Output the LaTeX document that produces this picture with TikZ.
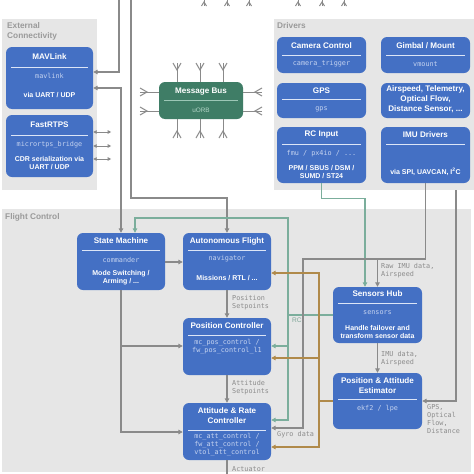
\documentclass[tikz,border=0pt]{standalone}
\usepackage{fontspec}
\setmainfont{Liberation Sans}
\newfontfamily\monof{DejaVu Sans Mono}
\usetikzlibrary{arrows.meta}
\definecolor{panelgray}{HTML}{E6E6E6}
\definecolor{boxblue}{HTML}{4470C4}
\definecolor{busgreen}{HTML}{3F7D66}
\definecolor{busdiv}{HTML}{9CC7B6}
\definecolor{bustxt}{HTML}{B4D6C8}
\definecolor{monoblue}{HTML}{C5D3F0}
\definecolor{divc}{HTML}{DCE5F7}
\definecolor{linegray}{HTML}{8A8A8A}
\definecolor{rcteal}{HTML}{7BAE9C}
\definecolor{brn}{HTML}{B08A4A}
\definecolor{lblgray}{HTML}{8C8C8C}
\definecolor{ptitle}{HTML}{9A9A9A}
\tikzset{
 panel/.style={fill=panelgray, draw=none, inner sep=0},
 blk/.style={fill=boxblue, draw=none, rounded corners=6pt, inner sep=0},
 busblk/.style={fill=busgreen, draw=none, rounded corners=6pt, inner sep=0},
 ttl/.style={text=white, font=\bfseries\fontsize{8.1}{10}\selectfont, align=center, inner sep=0},
 bod/.style={text=white, font=\bfseries\fontsize{7.0}{8.2}\selectfont, align=center, inner sep=0},
 mon/.style={text=monoblue, font=\monof\fontsize{6.8}{8}\selectfont, align=center, inner sep=0},
 lbl/.style={text=lblgray, font=\monof\fontsize{6.8}{8}\selectfont, align=left, anchor=west, inner sep=0},
 rclbl/.style={text=rcteal!80!gray, font=\fontsize{6.6}{8}\selectfont, anchor=west, inner sep=0},
 ptl/.style={text=ptitle, font=\bfseries\fontsize{8.3}{10}\selectfont, align=left, anchor=west, inner sep=0},
 divl/.style={draw=divc, line width=0.8pt},
 conn/.style={draw=linegray, line width=1.1pt},
 rcl/.style={draw=rcteal, line width=1.1pt},
 brl/.style={draw=brn, line width=1.1pt},
 stub/.style={draw=linegray, line width=1pt},
}
\newcommand\bx[6][blk]{\node[#1, minimum width={#5-#3}, minimum height={#6-#4}] (#2) at ({(#3+#5)/2},{(#4+#6)/2}) {};}
\newcommand\dv[3]{\draw[divl] (#1+5,#3) -- (#2-5,#3);}
\begin{document}
\begin{tikzpicture}[x=1pt,y=-1pt,>={Triangle[length=4.5pt,width=4.5pt]}]
\useasboundingbox[fill=white] (0,0) rectangle (474,474);
% panels
\bx[panel]{ext}{2}{19}{97}{190}
\bx[panel]{drv}{274}{19}{474}{190}
\bx[panel]{fc}{2}{209}{471}{472}
\node[ptl] (extT) at (7,31) {External\\Connectivity};
\node[ptl] (drvT) at (277,26) {Drivers};
\node[ptl] (fcT) at (5,217) {Flight Control};
% external connectivity
\bx{mav}{6}{47}{93}{109}
\node[ttl] (mavT) at (49.5,57) {MAVLink};
\dv{6}{93}{67}
\node[mon] (mavM) at (49.5,76) {mavlink};
\node[bod] (mavB) at (49.5,95) {via UART / UDP};
\bx{frt}{6}{115}{93}{177}
\node[ttl] (frtT) at (49.5,125) {FastRTPS};
\dv{6}{93}{135}
\node[mon] (frtM) at (49.5,145) {micrortps\_bridge};
\node[bod] (frtB) at (49.5,163) {CDR serialization via\\UART / UDP};
% message bus
\bx[busblk]{bus}{159}{82}{243}{119}
\node[ttl] (busT) at (201,92) {Message Bus};
\draw[draw=busdiv, line width=0.8pt] (164,100.5) -- (238,100.5);
\node[text=bustxt, font=\fontsize{6.4}{8}\selectfont, inner sep=0] (busM) at (201,110) {uORB};
\foreach \x in {177,200,223} {
  \draw[stub] (bus.north -| \x,0) -- (\x,63);
  \draw[stub] (\x-4,63) -- (\x,70) -- (\x+4,63);
  \draw[stub] (bus.south -| \x,0) -- (\x,138);
  \draw[stub] (\x-4,138) -- (\x,131) -- (\x+4,138);
}
\foreach \y in {92,111} {
  \draw[stub] (bus.west |- 0,\y) -- (140,\y);
  \draw[stub] (140,\y-4) -- (147,\y) -- (140,\y+4);
  \draw[stub] (bus.east |- 0,\y) -- (262,\y);
  \draw[stub] (262,\y-4) -- (255,\y) -- (262,\y+4);
}
\foreach \x in {204,227,249,298,322,344} {
  \draw[stub] (\x,0) -- (\x,6);
  \draw[stub] (\x-2.5,6) -- (\x,2) -- (\x+2.5,6);
}
% drivers
\bx{cam}{277}{37}{366}{73}
\node[ttl] (camT) at (321.5,46) {Camera Control};
\dv{277}{366}{55}
\node[mon] (camM) at (321.5,64) {camera\_trigger};
\bx{gim}{381}{37}{470}{73}
\node[ttl] (gimT) at (425.5,46) {Gimbal / Mount};
\dv{381}{470}{55}
\node[mon] (gimM) at (425.5,64) {vmount};
\bx{gps}{277}{83}{366}{118}
\node[ttl] (gpsT) at (321.5,91) {GPS};
\dv{277}{366}{99}
\node[mon] (gpsM) at (321.5,109) {gps};
\bx{air}{381}{83}{470}{118}
\node[ttl] (airT) at (425.5,99.5) {Airspeed, Telemetry,\\Optical Flow,\\Distance Sensor, ...};
\bx{rc}{277}{127}{366}{183}
\node[ttl] (rcT) at (321.5,135) {RC Input};
\dv{277}{366}{144}
\node[mon] (rcM) at (321.5,154) {fmu / px4io / ...};
\node[bod] (rcB) at (321.5,172) {PPM / SBUS / DSM /\\SUMD / ST24};
\bx{imu}{381}{127}{470}{183}
\node[ttl] (imuT) at (425.5,135) {IMU Drivers};
\dv{381}{470}{144}
\node[bod] (imuB) at (425.5,172) {via SPI, UAVCAN, I\textsuperscript{2}C};
% flight control
\bx{sm}{77}{233}{165}{290}
\node[ttl] (smT) at (121,241) {State Machine};
\dv{77}{165}{250}
\node[mon] (smM) at (121,260) {commander};
\node[bod] (smB) at (121,278) {Mode Switching /\\Arming / ...};
\bx{af}{183}{233}{271}{290}
\node[ttl] (afT) at (227,241) {Autonomous Flight};
\dv{183}{271}{250}
\node[mon] (afM) at (227,259) {navigator};
\node[bod] (afB) at (227,278) {Missions / RTL / ...};
\bx{pc}{183}{318}{271}{375}
\node[ttl] (pcT) at (227,326) {Position Controller};
\dv{183}{271}{335}
\node[mon] (pcM) at (227,347) {mc\_pos\_control /\\fw\_pos\_control\_l1};
\bx{ac}{183}{403}{271}{460}
\node[ttl] (acT) at (227,416) {Attitude \& Rate\\Controller};
\dv{183}{271}{430}
\node[mon] (acM) at (227,445) {mc\_att\_control /\\fw\_att\_control /\\vtol\_att\_control};
\bx{sh}{333}{287}{422}{343}
\node[ttl] (shT) at (377.5,294) {Sensors Hub};
\dv{333}{422}{303}
\node[mon] (shM) at (377.5,313) {sensors};
\node[bod] (shB) at (377.5,332) {Handle failover and\\transform sensor data};
\bx{est}{333}{373}{422}{429}
\node[ttl] (estT) at (377.5,385.5) {Position \& Attitude\\Estimator};
\dv{333}{422}{399}
\node[mon] (estM) at (377.5,409) {ekf2 / lpe};
% connectors: external
\coordinate (topA) at (119,0);
\coordinate (topC) at (131,0);
\draw[conn,->] (topA) |- (mav.east |- 0,72);
\draw[conn,<->] (mav.east |- 0,88) -| (sm.north);
\draw[conn,->] (topC) |- (af.north |- 0,198) -- (af.north);
\foreach \y in {132,146,159} {
  \draw[conn,line width=1pt,<->,>={Triangle[length=3.5pt,width=3.5pt]}] (frt.east |- 0,\y) -- ++(18,0);
}
% flight control internal
\draw[conn,->] (sm.east |- 0,262) -- (af.west |- 0,262);
\draw[conn,->] (sm.south) |- (pc.west |- 0,346);
\draw[conn,->] (sm.south) |- (ac.west |- 0,432);
\draw[conn,->] (af.south) -- (pc.north);
\node[lbl] (lposs) at (232,302.5) {Position\\Setpoints};
\draw[conn,->] (pc.south) -- (ac.north);
\node[lbl] (latts) at (232,388) {Attitude\\Setpoints};
\coordinate (actE) at (227,474);
\draw[conn] (ac.south) -- (actE);
\node[lbl] (lact) at (232,469) {Actuator};
% RC
\draw[rcl,->] (rc.south) -- ++(0,15) -| (sh.north -| 365,0);
\coordinate (rcj) at (288,315);
\draw[rcl] (sh.west |- rcj) -- (rcj);
\draw[rcl,->] (rcj) |- (135,218) -- (sm.north -| 135,0);
\draw[rcl,->] (rcj) |- (pc.east |- 0,346);
\draw[rcl,->] (rcj) |- (ac.east |- 0,420);
\node[rclbl] (lrc) at (292,320) {RC};
% IMU
\coordinate (gy) at (303,259);
\draw[conn,->] (imu.south) |- (gy) |- (ac.east |- 0,428);
\draw[conn,->] (gy -| 377.5,0) -- (sh.north);
\node[lbl] (lraw) at (381,271) {Raw IMU data,\\Airspeed};
\node[lbl] (lgyro) at (277,435) {Gyro data};
\draw[conn,->] (sh.south) -- (est.north);
\node[lbl] (limu) at (381,359) {IMU data,\\Airspeed};
% GPS etc
\draw[conn,->] (drv.south -| 456,0) |- (est.east |- 0,401);
\node[lbl, anchor=north west] (lgps) at (427,404) {GPS,\\Optical\\Flow,\\Distance};
% estimator outputs
\coordinate (bj) at (319,401);
\draw[brl] (est.west |- bj) -- (bj);
\draw[brl,->] (bj) |- (af.east |- 0,273);
\draw[brl,->] (bj) |- (pc.east |- 0,358);
\draw[brl,->] (bj) |- (ac.east |- 0,447);
\end{tikzpicture}
\end{document}
